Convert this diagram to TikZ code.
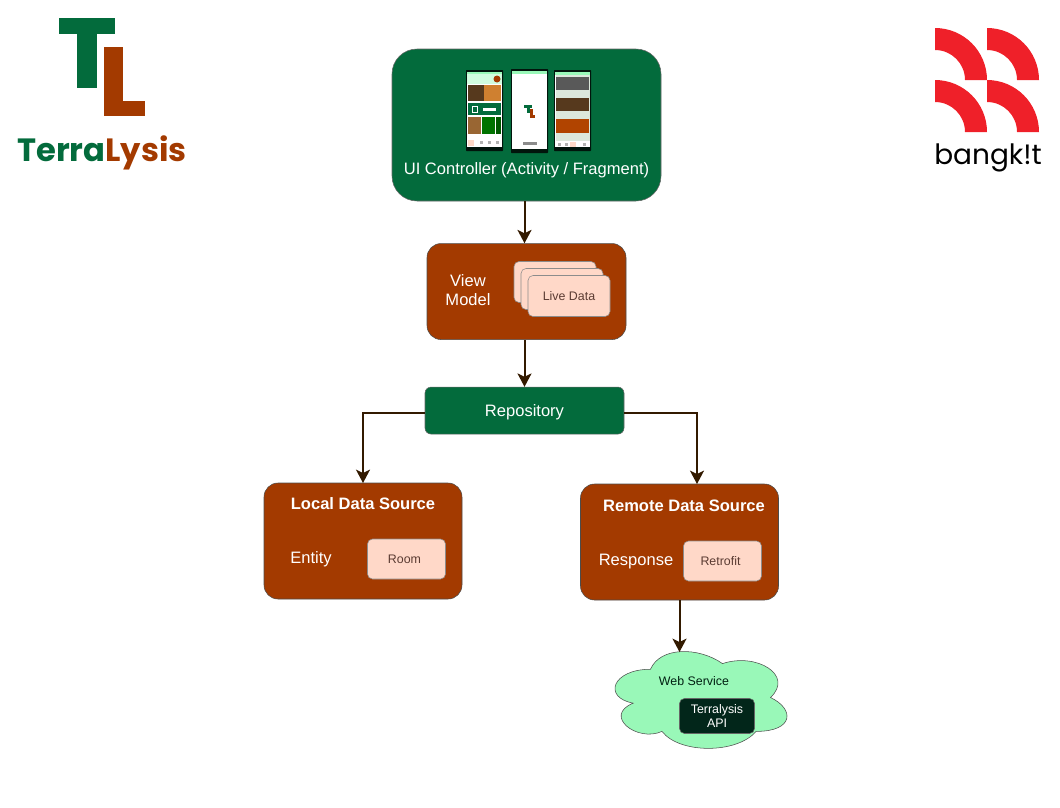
\documentclass[tikz,border=0pt]{standalone}
\usepackage{fontspec}
\setmainfont{Liberation Sans}
\newfontfamily\logofont{Poppins}
\usepackage{xcolor}
\usetikzlibrary{positioning,calc,arrows.meta}
\definecolor{tlgreen}{HTML}{036B3C}
\definecolor{tlbrown}{HTML}{A33A00}
\definecolor{tlpeach}{HTML}{FFD8C8}
\definecolor{tldark}{HTML}{331A00}
\definecolor{tlcloud}{HTML}{99F8B8}
\definecolor{tlapi}{HTML}{02261A}
\definecolor{tlred}{HTML}{EF2029}
\definecolor{tlgrey}{HTML}{5A3B32}
\definecolor{tlband}{HTML}{DCE8DC}
\newcommand{\unitpx}{0.75pt}
\newcommand{\bigtext}{\fontsize{12.4}{14.3}\selectfont}
\newcommand{\smalltext}{\fontsize{9.3}{11.2}\selectfont}
\tikzset{
        greenblock/.style = {draw=black!60, fill=tlgreen, text=white, rounded corners=6*\unitpx, font=\bigtext, minimum width=199*\unitpx, minimum height=47*\unitpx},
        brownblock/.style = {draw=black!70, fill=tlbrown, text=white, rounded corners=14*\unitpx, minimum width=198*\unitpx, minimum height=116*\unitpx},
        peachblock/.style = {draw=black!45, fill=tlpeach, text=tlgrey, rounded corners=5*\unitpx, font=\smalltext, minimum width=78*\unitpx, minimum height=40*\unitpx},
        label/.style = {text=white, font=\bigtext, align=center, inner sep=0pt},
        line/.style = {draw=tldark, line width=1.5pt, -{Stealth[length=10pt,width=10.5pt,inset=2.5pt]}}}

\begin{document}
\begin{tikzpicture}[x=\unitpx,y=-\unitpx]
    \useasboundingbox (0,0) rectangle (1060,807);

    % logo left
    \fill[tlgreen] (59,18) rectangle (115,34);
    \fill[tlgreen] (77,34) rectangle (97,88);
    \fill[tlbrown] (104,47) rectangle (123,116);
    \fill[tlbrown] (123,101) rectangle (145,116);
    \node[inner sep=0pt, anchor=base west, font=\logofont\bfseries\fontsize{24.15}{28}\selectfont] (tlname) at (17,161)
        {\textcolor{tlgreen}{Terra}\textcolor{tlbrown}{Lysis}};

    % logo right
    \foreach \lx/\ly in {935/28, 987/28, 935/80, 987/80}{
        \fill[tlred] (\lx,\ly) arc[start angle=90, end angle=0, radius=52*\unitpx]
            -- ++(-22,0) arc[start angle=0, end angle=90, radius=30*\unitpx] -- cycle;
    }
    \node[inner sep=0pt, anchor=base west, text=black, font=\logofont\fontsize{21}{25}\selectfont] (bkname) at (934,164) {bangk!t};

    % blocks
    \node [greenblock, rounded corners=25*\unitpx, minimum width=269*\unitpx, minimum height=152*\unitpx] (ui) at (526.5,125) {};
    \node [brownblock, minimum width=199*\unitpx, minimum height=96*\unitpx, below=42*\unitpx of ui] (vm) {};
    \node [greenblock, below=47*\unitpx of vm, xshift=-2*\unitpx] (repo) {\raisebox{-1pt}[\height][\depth]{Repository}};
    \node [brownblock] (local) at (363,541) {};
    \node [brownblock] (remote) at (679.5,542) {};

    \node [label] (uitext) at (526.5,170) {UI Controller (Activity / Fragment)};
    \node [label] (vmtext) at (468,290.5) {View\\Model};
    \node [peachblock, minimum width=82*\unitpx, minimum height=41*\unitpx] (card1) at (555,282) {};
    \node [peachblock, minimum width=82*\unitpx, minimum height=41*\unitpx] (card2) at (562,289) {};
    \node [peachblock, minimum width=82*\unitpx, minimum height=41*\unitpx] (card3) at (569,296) {Live Data};

    \node [label, font=\bigtext\bfseries] (localtext) at (363,504) {Local Data Source};
    \node [label] (entity) at (311,559.5) {Entity};
    \node [peachblock] (room) at (406.5,559) {Room\kern3pt};
    \node [label, font=\bigtext\bfseries] (remotetext) at (684,506) {Remote Data Source};
    \node [label] (response) at (636,562) {Response};
    \node [peachblock] (retrofit) at (722.5,561) {Retrofit\kern3pt};

    % phones
    \foreach \sx/\sy/\sw/\sh in {466/70/37/81, 511/69/37/84, 554/70/37/81}{
        \fill[black!80!tlgreen, rounded corners=0.5pt] (\sx,\sy) rectangle ++(\sw,\sh);
        \fill[white] (\sx+1,\sy+1.5) rectangle ++(\sw-2,\sh-5.5);
        \fill[tlcloud] (\sx+1,\sy+1.5) rectangle ++(\sw-2,3);
    }
    % first screen
    \fill[tlcloud!45!white] (467,74) rectangle (502,84);
    \fill[tlbrown] (497,79) circle[radius=3.5*\unitpx];
    \fill[black!55!brown] (468,85) rectangle (484,101);
    \fill[brown!75!orange] (484,85) rectangle (501,101);
    \fill[tlgreen] (468,103) rectangle (501,115);
    \draw[white, line width=0.5pt] (472,106) rectangle (477,112);
    \fill[white] (483,108) rectangle (496,110.5);
    \fill[brown!80!black] (468,117) rectangle (481,134);
    \fill[green!45!black] (482,117) rectangle (495,134);
    \fill[green!35!black] (496,117) rectangle (501,134);
    \fill[tlpeach] (468,140) rectangle (474,146);
    \foreach \dx in {480,488,496}{\fill[black!30] (\dx,141) rectangle ++(3,3);}
    % second screen
    \fill[tlgreen] (524,105) rectangle (532,108);
    \fill[tlgreen] (527,108) rectangle (530,113);
    \fill[tlbrown] (529.5,108.5) rectangle (532.5,118);
    \fill[tlbrown] (532.5,115) rectangle (535,118);
    \fill[black!45] (523,142) rectangle (537,145);
    % third screen
    \fill[tlband] (555.5,75) rectangle (590,141);
    \fill[black!65] (556,77) rectangle (589,90);
    \fill[black!55!brown] (556,98) rectangle (589,111);
    \fill[tlbrown!85!orange] (556,119) rectangle (589,133);
    \fill[tlpeach] (570,142) rectangle (576,147);
    \foreach \dx in {558,565,583}{\fill[black!30] (\dx,143) rectangle ++(3,3);}

    % cloud
    \begin{scope}[shift={(602.5,641)},x=192*\unitpx,y=-113*\unitpx]
        \draw[draw=black!70, fill=tlcloud]
            (0.25,0.25) .. controls (0.05,0.25) and (0,0.5) .. (0.16,0.55)
            .. controls (0,0.66) and (0.18,0.9) .. (0.31,0.8)
            .. controls (0.4,1) and (0.7,1) .. (0.8,0.8)
            .. controls (1,0.8) and (1,0.6) .. (0.875,0.5)
            .. controls (1,0.3) and (0.8,0.1) .. (0.625,0.2)
            .. controls (0.5,0.05) and (0.3,0.05) .. (0.25,0.25) -- cycle;
    \end{scope}
    \coordinate (cloudtop) at (679.5,652);
    \coordinate (remotein) at (697,484);
    \coordinate (localin) at (363,483);
    \node [inner sep=0pt, text=black!70!tlgreen, font=\smalltext] (web) at (694,681) {Web Service};
    \node [draw=black!60, fill=tlapi, text=white, rounded corners=5*\unitpx, font=\smalltext, align=center, inner sep=0pt, minimum width=75*\unitpx, minimum height=35*\unitpx] (api) at (717,716) {Terralysis\\API};

    % connectors
    \begin{scope}[line]
    \draw (ui.south -| repo) -- (vm.north -| repo);
    \draw (vm.south -| repo) -- (repo);
    \draw ([yshift=-2.5*\unitpx]repo.east) -| (remotein);
    \draw ([yshift=-2.5*\unitpx]repo.west) -| (localin);
    \draw (remote) -- (cloudtop);
    \end{scope}
\end{tikzpicture}
\end{document}
